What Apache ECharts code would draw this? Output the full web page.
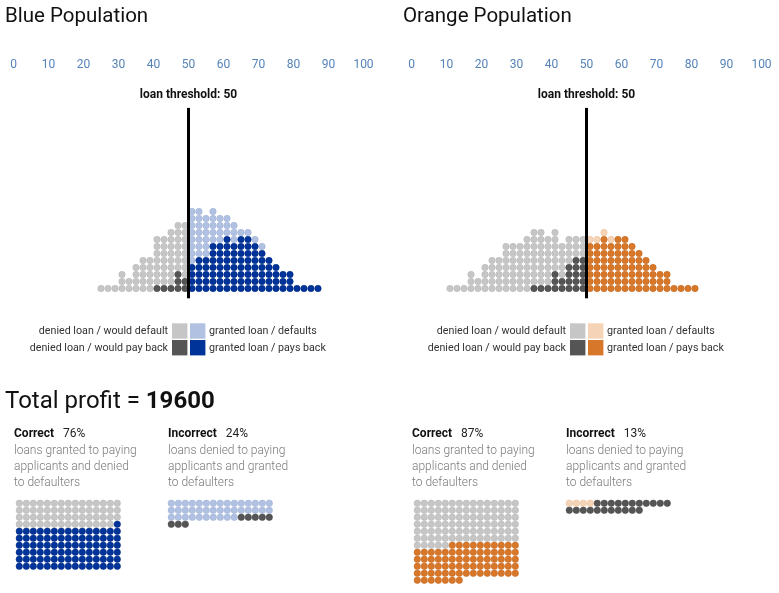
<!DOCTYPE html>
<html><head><meta charset="utf-8">
<script src="https://cdn.jsdelivr.net/npm/echarts@6/dist/echarts.min.js"></script>
<style>html,body{margin:0;padding:0;background:#fff}#c{width:779px;height:593px}</style>
</head><body><div id="c"></div>
<script>
// ---------------- data ----------------
const axisTicks = [0, 10, 20, 30, 40, 50, 60, 70, 80, 90, 100];
const threshold = 50;
const profitPerPaying = 300;
const lossPerDefault = 700;

const blueScores = [25,27,29,31,33,35,37,39,41,43,45,47,49,51,53,55,57,59,61,63,65,67,69,71,73,75,77,79,81,83,85,87];
const bluePaying = [0,0,0,0,0,0,0,0,1,1,1,3,2,4,5,5,7,7,8,7,8,8,7,6,5,4,3,3,1,1,1,1];
const blueDefault = [1,1,1,3,2,4,5,5,7,7,8,7,8,8,7,6,5,4,3,3,1,1,1,1,0,0,0,0,0,0,0,0];

const orangeScores = [11,13,15,17,19,21,23,25,27,29,31,33,35,37,39,41,43,45,47,49,51,53,55,57,59,61,63,65,67,69,71,73,75,77,79,81];
const orangePaying = [0,0,0,0,0,0,0,0,0,0,0,0,1,1,1,3,2,4,5,5,7,7,8,7,8,8,7,6,5,4,3,3,1,1,1,1];
const orangeDefault = [1,1,1,3,2,4,5,5,7,7,7,8,8,8,7,6,5,4,3,3,1,1,1,1,0,0,0,0,0,0,0,0,0,0,0,0];

const populationNames = ['Blue Population', 'Orange Population'];
const legendLabels = ['denied loan / would default', 'denied loan / would pay back', 'granted loan / defaults', 'granted loan / pays back'];
const correctDesc = 'loans granted to paying\napplicants and denied\nto defaulters';
const incorrectDesc = 'loans denied to paying\napplicants and granted\nto defaulters';

// ---------------- styles ----------------
const FONT = 'Roboto, "Noto Sans", sans-serif';
const C = {
  deniedDefault: '#c6c6c6',
  deniedPay: '#555555',
  blue: { grantedDefault: '#b1c1e1', grantedPay: '#003399' },
  orange: { grantedDefault: '#f5d3b6', grantedPay: '#d6772a' }
};
const border = {
  deniedDefault: '#b8b8b8', deniedPay: '#4a4a4a',
  blue: { grantedDefault: '#a0b2d8', grantedPay: '#002d88' },
  orange: { grantedDefault: '#ecc3a0', grantedPay: '#c96c22' }
};
const DOT = 6.4;
const OFFSET = 398;           // horizontal offset of the orange panel
const COLS = 15;              // waffle columns

// ---------------- helpers ----------------
function histDots(scores, paying, defaulting) {
  const out = { deniedDefault: [], deniedPay: [], grantedDefault: [], grantedPay: [] };
  scores.forEach((s, i) => {
    const granted = s >= threshold;
    for (let r = 0; r < paying[i]; r++) out[granted ? 'grantedPay' : 'deniedPay'].push([s, r]);
    for (let r = 0; r < defaulting[i]; r++) out[granted ? 'grantedDefault' : 'deniedDefault'].push([s, paying[i] + r]);
  });
  return out;
}
function waffle(counts) {
  let idx = 0;
  return counts.map(n => {
    const pts = [];
    for (let i = 0; i < n; i++) { pts.push([idx % COLS, Math.floor(idx / COLS)]); idx++; }
    return pts;
  });
}

const pops = [
  { key: 'blue', dots: histDots(blueScores, bluePaying, blueDefault) },
  { key: 'orange', dots: histDots(orangeScores, orangePaying, orangeDefault) }
];

const grid = [], xAxis = [], yAxis = [], series = [], graphic = [];
let totalProfit = 0;

pops.forEach((p, pi) => {
  const dx = pi * OFFSET;
  const d = p.dots;
  const nDD = d.deniedDefault.length, nDP = d.deniedPay.length, nGD = d.grantedDefault.length, nGP = d.grantedPay.length;
  const total = nDD + nDP + nGD + nGP;
  totalProfit += nGP * profitPerPaying - nGD * lossPerDefault;

  // histogram grid
  const hg = grid.length;
  grid.push({ left: 13.5 + dx, top: 75, width: 350, height: 224 });
  xAxis.push({ gridIndex: hg, type: 'value', position: 'top', min: axisTicks[0], max: axisTicks[axisTicks.length - 1], interval: axisTicks[1] - axisTicks[0],
    axisLine: { show: false }, axisTick: { show: false }, splitLine: { show: false },
    axisLabel: { color: '#5583b8', fontSize: 12, fontFamily: FONT, margin: 4 } });
  yAxis.push({ gridIndex: hg, type: 'value', min: -1.5, max: 30.5, show: false });
  const hs = [
    ['deniedDefault', C.deniedDefault, border.deniedDefault],
    ['deniedPay', C.deniedPay, border.deniedPay],
    ['grantedDefault', C[p.key].grantedDefault, border[p.key].grantedDefault],
    ['grantedPay', C[p.key].grantedPay, border[p.key].grantedPay]
  ];
  hs.forEach(([k, col, bc], si) => {
    const s = { type: 'scatter', xAxisIndex: hg, yAxisIndex: hg, symbol: 'circle', symbolSize: DOT, silent: true,
      itemStyle: { color: col, borderColor: bc, borderWidth: 0.6, opacity: 1 }, data: d[k], z: 2 };
    if (si === 0) {
      s.markLine = { silent: true, symbol: 'none', z: 5, animation: false,
        lineStyle: { color: '#000', width: 3, type: 'solid' },
        label: { show: true, position: 'end', distance: 7, formatter: 'loan threshold: ' + threshold,
          color: '#111', fontWeight: 'bold', fontSize: 12, fontFamily: FONT },
        data: [[{ coord: [threshold, -1.4] }, { coord: [threshold, 25.8] }]] };
    }
    series.push(s);
  });

  // waffles
  const wf = [
    { left: 15.8 + dx, counts: [nDD, nGP], cols: [[C.deniedDefault, border.deniedDefault], [C[p.key].grantedPay, border[p.key].grantedPay]] },
    { left: 167.8 + dx, counts: [nGD, nDP], cols: [[C[p.key].grantedDefault, border[p.key].grantedDefault], [C.deniedPay, border.deniedPay]] }
  ];
  wf.forEach(w => {
    const gi = grid.length;
    grid.push({ left: w.left, top: 499.8, width: 105, height: 84 });
    xAxis.push({ gridIndex: gi, type: 'value', min: -0.5, max: 14.5, show: false });
    yAxis.push({ gridIndex: gi, type: 'value', min: -0.5, max: 11.5, inverse: true, show: false });
    waffle(w.counts).forEach((pts, j) => {
      series.push({ type: 'scatter', xAxisIndex: gi, yAxisIndex: gi, symbol: 'circle', symbolSize: DOT, silent: true,
        itemStyle: { color: w.cols[j][0], borderColor: w.cols[j][1], borderWidth: 0.6, opacity: 1 }, data: pts });
    });
  });

  const correctPct = Math.round((nDD + nGP) / total * 100);
  const incorrectPct = Math.round((nGD + nDP) / total * 100);

  // title
  graphic.push({ type: 'text', x: 5 + dx, y: 17, style: { text: populationNames[pi], font: '20.5px ' + FONT, fill: '#111', verticalAlign: 'middle' } });

  // legend
  const sw = [
    [172, 323.3, C.deniedDefault], [190, 323.3, C[p.key].grantedDefault],
    [172, 340, C.deniedPay], [190, 340, C[p.key].grantedPay]
  ];
  sw.forEach(([x, y, col]) => graphic.push({ type: 'rect', shape: { x: x + dx, y: y, width: 15.4, height: 15.4 }, style: { fill: col } }));
  const lt = [
    [168, 331.5, 'right', legendLabels[0]], [168, 348, 'right', legendLabels[1]],
    [209, 331.5, 'left', legendLabels[2]], [209, 348, 'left', legendLabels[3]]
  ];
  lt.forEach(([x, y, al, t]) => graphic.push({ type: 'text', x: x + dx, y: y, style: { text: t, font: '10.7px ' + FONT, fill: '#333', align: al, verticalAlign: 'middle' } }));

  // correct / incorrect
  [[14, 'Correct', correctPct, correctDesc], [168, 'Incorrect', incorrectPct, incorrectDesc]].forEach(([x, lab, pct, desc]) => {
    graphic.push({ type: 'text', x: x + dx, y: 434, style: { text: '{a|' + lab + '}{b|   ' + pct + '%}',
      rich: { a: { font: 'bold 12px ' + FONT, fill: '#111' }, b: { font: '12px ' + FONT, fill: '#222' } }, verticalAlign: 'middle' } });
    graphic.push({ type: 'text', x: x + dx, y: 442.5, style: { text: desc, font: '300 12px ' + FONT, fill: '#7a7a7a', lineHeight: 16, verticalAlign: 'top' } });
  });
});

graphic.push({ type: 'text', x: 5, y: 402, style: { text: '{a|Total profit = }{b|' + totalProfit + '}',
  rich: { a: { font: '24px ' + FONT, fill: '#111' }, b: { font: 'bold 24px ' + FONT, fill: '#111' } }, verticalAlign: 'middle' } });

const chart = echarts.init(document.getElementById('c'), null, { renderer: 'canvas' });
chart.setOption({ animation: false, backgroundColor: '#fff', grid, xAxis, yAxis, series, graphic });
</script></body></html>
